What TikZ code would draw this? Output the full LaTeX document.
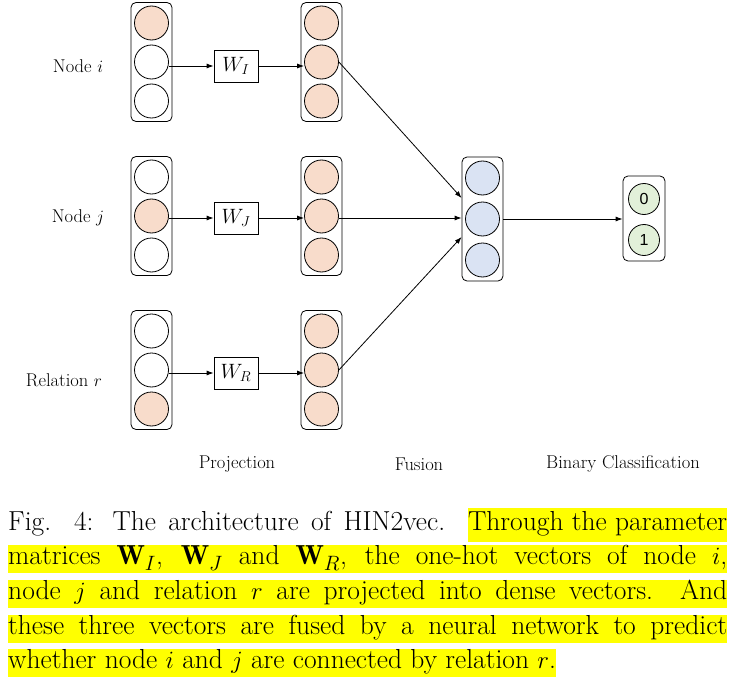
\documentclass[tikz,border=0pt]{standalone}
\usepackage{fontspec}
\usepackage{amsmath}
\newfontfamily\sansf{Liberation Sans}
\usetikzlibrary{arrows.meta}
\definecolor{peach}{HTML}{F8DCCB}
\definecolor{lblue}{HTML}{DAE3F3}
\definecolor{lgreen}{HTML}{E2F0D9}
\definecolor{hl}{HTML}{FFFF00}
\begin{document}
\begin{tikzpicture}[x=1pt,y=-1pt,
  vbox/.style={draw, rounded corners=5pt, minimum width=41pt, line width=0.8pt},
  cell/.style={circle, draw, minimum size=34pt, inner sep=0pt, line width=0.8pt},
  wbox/.style={draw, minimum width=44pt, minimum height=32pt, inner sep=0pt, font=\fontsize{22}{22}\selectfont, line width=0.8pt},
  lab/.style={font=\fontsize{18.5}{18.5}\selectfont},
  arr/.style={-{Latex[length=7pt,width=5pt]}, line width=0.8pt},
  capline/.style={anchor=west, inner sep=0pt, font=\fontsize{27.5}{27.5}\selectfont}]
\useasboundingbox (0,0) rectangle (729,677);
% column 1
\foreach \n/\y/\a/\b/\c in {1/62/peach/white/white, 2/216/white/peach/white, 3/370/white/white/peach}{
  \node[vbox, minimum height=119pt] (a\n) at (151.5,\y) {};
  \node[cell, fill=\a] (a\n1) at (151.5,\y-39) {};
  \node[cell, fill=\b] (a\n2) at (151.5,\y) {};
  \node[cell, fill=\c] (a\n3) at (151.5,\y+39) {};
  \node[vbox, minimum height=119pt] (b\n) at (321.5,\y) {};
  \node[cell, fill=peach] (b\n1) at (321.5,\y-39) {};
  \node[cell, fill=peach] (b\n2) at (321.5,\y) {};
  \node[cell, fill=peach] (b\n3) at (321.5,\y+39) {};
}
\node[wbox] (w1) at (236,66) {$W_I$};
\node[wbox] (w2) at (236,218) {$W_J$};
\node[wbox] (w3) at (236,373) {$W_R$};
\foreach \n/\y in {1/66,2/218,3/373}{
  \draw[arr] (a\n2.east |- w\n.west) -- (w\n);
  \draw[arr] (w\n) -- (b\n2.west |- w\n.east);
}
\node[lab] (l1) at (78,66) {Node $i$};
\node[lab] (l2) at (78,218) {Node $j$};
\node[lab] (l3) at (64,380) {Relation $r$};
% fusion
\node[vbox, minimum height=124pt] (f) at (482.5,219) {};
\node[cell, fill=lblue] (f1) at (482.5,178) {};
\node[cell, fill=lblue] (f2) at (482.5,219) {};
\node[cell, fill=lblue] (f3) at (482.5,260) {};
\draw[arr] (b12.east) -- (f.west |- 0,198);
\draw[arr] (b22.east |- 0,218) -- (f.west |- 0,218);
\draw[arr] (b32.east) -- (f.west |- 0,237);
% output
\node[vbox, minimum height=85pt, minimum width=42pt] (o) at (644,218.5) {};
\node[cell, fill=lgreen, minimum size=31pt, font=\sansf\fontsize{16}{16}\selectfont] (o1) at (644,199) {0};
\node[cell, fill=lgreen, minimum size=31pt, font=\sansf\fontsize{16}{16}\selectfont] (o2) at (644,240) {1};
\draw[arr] (f.east |- 0,219) -- (o.west |- 0,219);
\node[lab] (t1) at (237,464) {Projection};
\node[lab] (t2) at (419,464) {Fusion};
\node[lab] (t3) at (623,464) {Binary Classification};
% caption
\node[capline] (c1) at (8,525) {\hbox to 719pt{Fig. 4: The architecture of HIN2vec. \colorbox{hl}{\hspace*{-3pt}\strut Through the parameter\hspace*{-3pt}}}};
\node[capline, fill=hl] (c2) at (8,559) {\strut\hbox to 719pt{matrices $\mathbf{W}_I$, $\mathbf{W}_J$ and $\mathbf{W}_R$, the one-hot vectors of node $i$,}};
\node[capline, fill=hl] (c3) at (8,594) {\strut\hbox to 719pt{node $j$ and relation $r$ are projected into dense vectors. And}};
\node[capline, fill=hl] (c4) at (8,629) {\strut\hbox to 719pt{these three vectors are fused by a neural network to predict}};
\node[capline, fill=hl] (c5) at (8,663) {\strut whether node $i$ and $j$ are connected by relation $r$.};
\end{tikzpicture}
\end{document}
